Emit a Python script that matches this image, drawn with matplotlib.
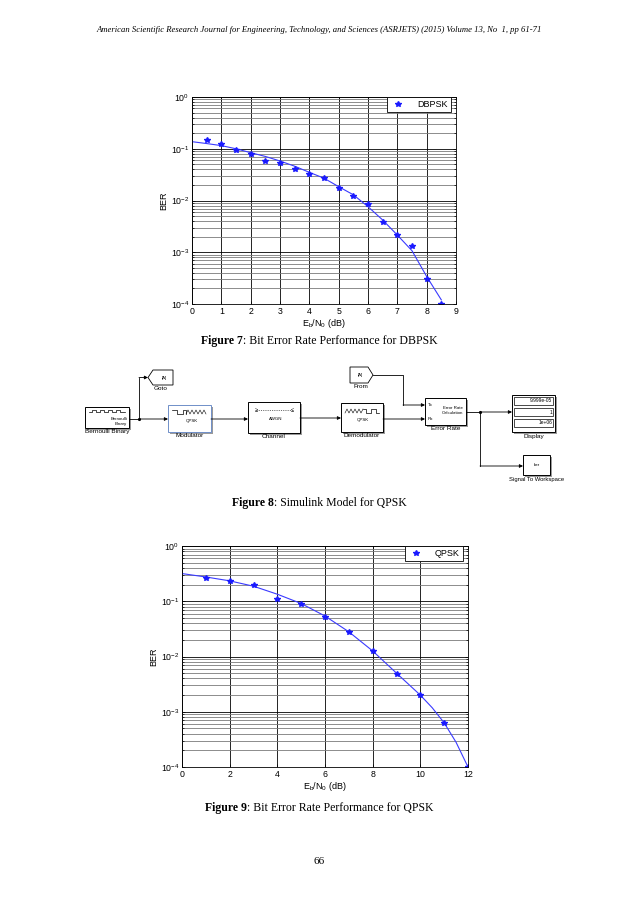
import numpy as np
import matplotlib
matplotlib.use('Agg')
import matplotlib.pyplot as plt
from matplotlib.patches import Rectangle, Polygon
from matplotlib.ticker import LogLocator, FixedLocator

plt.rcParams['font.family'] = ['Liberation Sans', 'DejaVu Sans']
plt.rcParams['mathtext.fontset'] = 'custom'
plt.rcParams['mathtext.rm'] = 'Liberation Sans'
plt.rcParams['axes.unicode_minus'] = False

# DBPSK: simulated points and fitted curve
dbpsk_ebn0 = [0.5, 1, 1.5, 2, 2.5, 3, 3.5, 4, 4.5, 5, 5.5, 6, 6.5, 7, 7.5, 8, 8.5]
dbpsk_ber = [0.146, 0.126, 0.094, 0.078, 0.059, 0.052, 0.040, 0.033, 0.027,
             0.0173, 0.0123, 0.0084, 0.0039, 0.0022, 0.00135, 0.00031, 0.0001]
dbpsk_fit_ebn0 = [0, 0.5, 1, 1.5, 2, 2.5, 3, 3.5, 4, 4.5, 5, 5.5, 6, 6.5, 7, 7.5, 8, 8.5]
dbpsk_fit_ber = [0.137, 0.126, 0.115, 0.100, 0.084, 0.071, 0.058, 0.046, 0.035,
                 0.027, 0.0185, 0.0129, 0.0076, 0.0042, 0.00215, 0.00107, 0.00034, 0.00012]

# QPSK: simulated points and fitted curve
qpsk_ebn0 = [1, 2, 3, 4, 5, 6, 7, 8, 9, 10, 11, 12]
qpsk_ber = [0.265, 0.233, 0.195, 0.112, 0.091, 0.052, 0.028, 0.0124, 0.0049,
            0.00205, 0.00062, 0.0001]
qpsk_fit_ebn0 = [0, 1, 2, 3, 4, 5, 6, 7, 8, 9, 10, 10.5, 11, 11.5, 12]
qpsk_fit_ber = [0.317, 0.275, 0.234, 0.187, 0.134, 0.091, 0.054, 0.028, 0.0126,
                0.005, 0.002, 0.00118, 0.00063, 0.00028, 0.0001]

display_values = ['9.999e-05', '1', '1e+06']

W, H = 638, 902
fig = plt.figure(figsize=(W / 100, H / 100), dpi=100)
fig.patch.set_facecolor('white')

# page layer in pixel coordinates
pg = fig.add_axes([0, 0, 1, 1])
pg.set_xlim(0, W)
pg.set_ylim(H, 0)
pg.axis('off')

serif = ['Liberation Serif', 'DejaVu Serif']
pg.text(319, 30, 'American Scientific Research Journal for Engineering, Technology, and Sciences (ASRJETS) (2015) Volume 13, No  1, pp 61-71',
        ha='center', va='center', fontsize=6.2, style='italic', family=serif)
pg.text(319, 862, '66', ha='center', va='center', fontsize=8, family=serif)

renderer = fig.canvas.get_renderer()


def caption(cx, y, bold, rest, size=8.5):
    # bold "Figure n" followed by regular text, centred as a whole
    t1 = pg.text(0, y, bold, fontsize=size, weight='bold', family=serif, va='center')
    t2 = pg.text(0, y, rest, fontsize=size, family=serif, va='center')
    w1 = t1.get_window_extent(renderer).width
    w2 = t2.get_window_extent(renderer).width
    x0 = cx - (w1 + w2) / 2
    t1.set_x(x0)
    t2.set_x(x0 + w1)


caption(319, 341, 'Figure 7', ': Bit Error Rate Performance for DBPSK')
caption(319, 503, 'Figure 8', ': Simulink Model for QPSK')
caption(319, 808, 'Figure 9', ': Bit Error Rate Performance for QPSK')


# ---------- Simulink model ----------
def block(x0, y0, x1, y1, edge='k'):
    pg.add_patch(Rectangle((x0 + 2, y0 + 2), x1 - x0, y1 - y0, fc='#9a9a9a', ec='none'))
    pg.add_patch(Rectangle((x0, y0), x1 - x0, y1 - y0, fc='white', ec=edge, lw=0.7))


def arrow(x0, y0, x1, y1):
    pg.annotate('', xy=(x1, y1), xytext=(x0, y0),
                arrowprops=dict(arrowstyle='-|>', lw=0.6, color='k',
                                mutation_scale=5, shrinkA=0, shrinkB=0))


def label(x, y, s, size=4.6):
    pg.text(x, y, s, ha='center', va='top', fontsize=size)


small = 3.2

# Bernoulli Binary generator
block(85, 407, 129, 428)
sq_x = [89, 92, 92, 96, 96, 100, 100, 104, 104, 108, 108, 112, 112, 116, 116, 120, 120, 125]
sq_y = [412, 412, 410, 410, 412, 412, 410, 410, 412, 412, 410, 410, 412, 412, 410, 410, 412, 412]
pg.plot(sq_x, sq_y, color='k', lw=0.5)
pg.text(127, 419, 'Bernoulli', fontsize=small, ha='right', va='center')
pg.text(127, 424.5, 'Binary', fontsize=small, ha='right', va='center')
label(107, 429.5, 'Bernoulli Binary')

# Goto
pg.add_patch(Polygon([(148, 377.5), (153, 370), (173, 370), (173, 385), (153, 385)],
                     closed=True, fc='white', ec='k', lw=0.6))
pg.text(164, 377.5, '[A]', fontsize=small, ha='center', va='center')
label(161, 385.5, 'Goto')

# QPSK modulator
block(168, 405, 211, 432, edge='#6f8fc8')
pg.plot([172, 177, 177, 183, 183, 186, 186], [410, 410, 414, 414, 410, 410, 414], color='k', lw=0.5)
wx = [186, 188, 190, 192, 194, 196, 198, 200, 202, 204, 206]
wy = [414, 410, 414, 410, 414, 410, 414, 410, 414, 410, 414]
pg.plot(wx, wy, color='k', lw=0.4)
pg.text(192, 421, 'QPSK', fontsize=small, ha='center', va='center')
label(190, 433, 'Modulator')

# AWGN channel
block(248, 402, 300, 433)
pg.plot([256, 292], [410, 410], color='k', lw=0.4, ls=(0, (2, 2)))
pg.text(256, 410, '≥', fontsize=4, ha='center', va='center')
pg.text(292, 410, '≤', fontsize=4, ha='center', va='center')
pg.text(276, 419, 'AWGN', fontsize=small, ha='center', va='center')
label(274, 434, 'Channel')

# QPSK demodulator
block(341, 403, 383, 432)
wx = [345, 347, 349, 351, 353, 355, 357, 359, 361, 363]
wy = [413, 409, 413, 409, 413, 409, 413, 409, 413, 409]
pg.plot(wx, wy, color='k', lw=0.4)
pg.plot([363, 366, 366, 371, 371, 376, 376, 379], [409, 409, 413, 413, 409, 409, 413, 413], color='k', lw=0.5)
pg.text(363, 420, 'QPSK', fontsize=small, ha='center', va='center')
label(362, 433, 'Demodulator')

# From
pg.add_patch(Polygon([(350, 367), (368, 367), (373, 375), (368, 383), (350, 383)],
                     closed=True, fc='white', ec='k', lw=0.6))
pg.text(360, 375, '[A]', fontsize=small, ha='center', va='center')
label(361, 384, 'From')

# Error rate calculation
block(425, 398, 466, 425)
pg.text(428, 405, 'Tx', fontsize=small, ha='left', va='center')
pg.text(428, 419, 'Rx', fontsize=small, ha='left', va='center')
pg.text(463, 408, 'Error Rate', fontsize=small, ha='right', va='center')
pg.text(463, 413, 'Calculation', fontsize=small, ha='right', va='center')
label(446, 426, 'Error Rate')

# Display
block(512, 395, 555, 432)
for i, v in enumerate(display_values):
    yy = 397 + i * 11
    pg.add_patch(Rectangle((514, yy), 39, 8, fc='white', ec='k', lw=0.5))
    pg.text(552, yy + 4, v, fontsize=small + 0.3, ha='right', va='center')
label(534, 434, 'Display')

# Signal to workspace
block(523, 455, 550, 475)
pg.text(537, 465, 'ber', fontsize=small, ha='center', va='center')
label(537, 477, 'Signal To Workspace', size=4.2)

# signal lines
pg.plot([129, 139], [419, 419], color='k', lw=0.6)
arrow(139, 419, 168, 419)
pg.plot([139], [419], 'k.', ms=2.5)
pg.plot([139, 139], [419, 377.5], color='k', lw=0.6)
arrow(139, 377.5, 148, 377.5)
arrow(211, 419, 248, 419)
arrow(300, 418, 341, 418)
arrow(383, 419, 425, 419)
pg.plot([373, 403, 403], [375, 375, 405], color='k', lw=0.6)
arrow(403, 405, 425, 405)
pg.plot([466, 480], [412, 412], color='k', lw=0.6)
pg.plot([480], [412], 'k.', ms=2.5)
arrow(480, 412, 512, 412)
pg.plot([480, 480], [412, 466], color='k', lw=0.6)
arrow(480, 466, 523, 466)


# ---------- BER plots ----------
def ber_axes(box, xs, ys, fx, fy, xticks, name, xmax):
    l, t, r, b = box
    ax = fig.add_axes([l / W, 1 - b / H, (r - l) / W, (b - t) / H])
    ax.set_yscale('log')
    ax.set_xlim(0, xmax)
    ax.set_ylim(1e-4, 1)
    ax.set_xticks(xticks)
    ax.yaxis.set_major_locator(FixedLocator([1e-4, 1e-3, 1e-2, 1e-1, 1]))
    ax.yaxis.set_minor_locator(LogLocator(base=10, subs=np.arange(2, 10), numticks=20))
    ax.yaxis.set_minor_formatter(plt.NullFormatter())
    ax.grid(True, which='minor', axis='y', color='#7a7a7a', lw=0.6)
    ax.grid(True, which='major', color='k', lw=0.6)
    ax.set_axisbelow(True)
    ax.tick_params(which='both', direction='in', labelsize=6.3, top=True, right=True,
                   length=2.5, width=0.5, pad=2)
    ax.tick_params(which='minor', length=1.5)
    for s in ax.spines.values():
        s.set_linewidth(0.6)
    ax.plot(fx, fy, color='#3a3aff', lw=0.8)
    ax.plot(xs, ys, ls='none', marker='*', ms=4, color='#1a1aff', label=name)
    leg = ax.legend(loc='upper right', bbox_to_anchor=(1 - 5 / (r - l), 1.0), fontsize=6.5,
                    fancybox=False, edgecolor='k', framealpha=1, borderaxespad=0,
                    handletextpad=1.2, borderpad=0.35, handlelength=1.8)
    leg.get_frame().set_linewidth(0.6)
    ax.set_xlabel(r'E$_\mathregular{b}$/N$_\mathregular{0}$ (dB)', fontsize=6.5, labelpad=1)
    ax.set_ylabel('BER', fontsize=6.5, labelpad=2)
    return ax


ber_axes((192, 97, 456, 304), dbpsk_ebn0, dbpsk_ber, dbpsk_fit_ebn0, dbpsk_fit_ber,
         list(range(10)), 'DBPSK', 9)
ber_axes((182, 546, 468, 767), qpsk_ebn0, qpsk_ber, qpsk_fit_ebn0, qpsk_fit_ber,
         list(range(0, 13, 2)), 'QPSK', 12)

fig.savefig('out.png', dpi=100, facecolor='white')
